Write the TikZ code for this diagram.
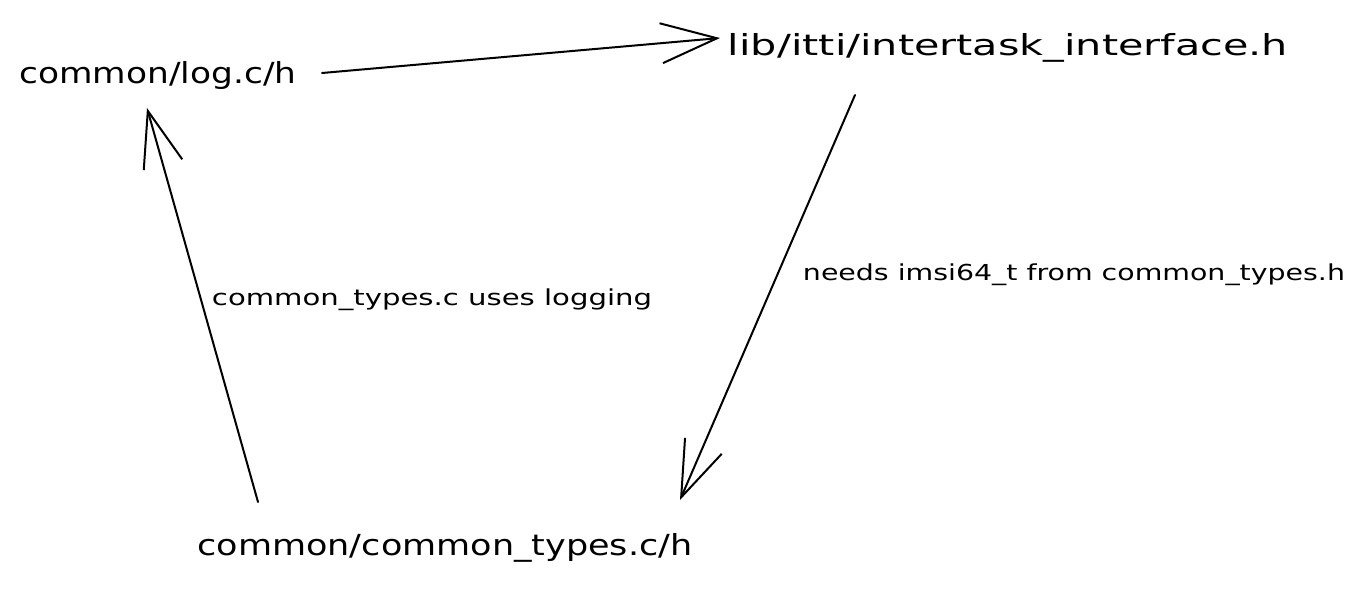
\documentclass[tikz,border=0pt]{standalone}
\usepackage{fontspec}
\setmainfont{DejaVu Sans}
\usetikzlibrary{arrows.meta,calc}
\newcommand{\fitw}[2]{\resizebox{#1pt}{\height}{#2}}
\begin{document}
\begin{tikzpicture}[x=1pt,y=-1pt,
  big/.style={inner sep=0pt,font=\fontsize{29}{34}\selectfont},
  small/.style={inner sep=0pt,font=\fontsize{22}{26}\selectfont},
  conn/.style={line width=2pt,line cap=round,-{Straight Barb[length=56pt,width=40pt,line width=2pt]}}]
\useasboundingbox[fill=white] (0,0) rectangle (1372,590);
\node[big] (log) at (158,75) {\fitw{277}{common/log.c/h}};
\node[big] (itti) at (1008,48) {\fitw{560}{lib/itti/intertask\_interface.h}};
\node[big] (ct) at (445,548) {\fitw{495}{common/common\_types.c/h}};
\node[small] (l1) at (432,300) {\fitw{440}{common\_types.c uses logging}};
\node[small] (l2) at (1074,275) {\fitw{542}{needs imsi64\_t from common\_types.h}};
\draw[conn] ($(log)+(164,-2)$) -- ($(itti)+(-288,-10)$);
\draw[conn] ($(itti)+(-153,47)$) -- ($(ct)+(235,-48)$);
\draw[conn] ($(ct)+(-187,-46)$) -- ($(log)+(-11,33)$);
\end{tikzpicture}
\end{document}
